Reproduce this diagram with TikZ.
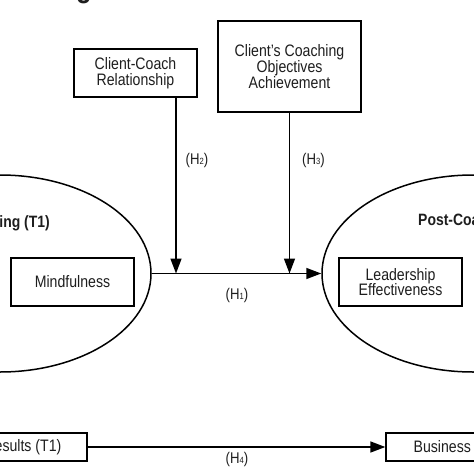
\documentclass[tikz,border=0pt]{standalone}
\usepackage{fontspec}
\setmainfont[FakeStretch=0.85]{Liberation Sans}
\usetikzlibrary{arrows.meta,shapes.geometric}
\definecolor{ink}{RGB}{30,30,30}
\tikzset{
  boxnode/.style={draw=black, line width=1.3pt, inner sep=0pt, align=center, text=ink,
    font=\fontsize{16.6}{15.7}\selectfont},
  arr/.style={line width=1.5pt, -{Triangle[length=15pt,width=11pt]}},
  ell/.style={ellipse, draw, line width=1.5pt, inner sep=0pt},
  hlab/.style={font=\fontsize{15.5}{15.5}\selectfont, inner sep=0pt, text=ink},
  grp/.style={font=\bfseries\fontsize{16.4}{16}\selectfont, inner sep=0pt, text=ink}
}
\newcommand{\hsub}[1]{{\fontsize{9}{9}\selectfont #1}}
\begin{document}
\begin{tikzpicture}[x=1pt,y=-1pt]
\useasboundingbox (0,0) rectangle (474,474);
\clip (0,0) rectangle (474,474);
\fill[white] (0,0) rectangle (474,474);
% clipped title fragment
\node[anchor=base, font=\bfseries\fontsize{30}{30}\selectfont, inner sep=0pt, text=ink] (tg) at (84,-3) {g};
% moderator boxes
\node[boxnode, minimum width=123pt, minimum height=48pt] (ccr) at (135.5,73) {Client-Coach\\Relationship};
\node[boxnode, minimum width=143pt, minimum height=91pt] (coa) at (289.5,66.5) {Client’s Coaching\\Objectives\\Achievement};
% ellipses
\node[ell, minimum width=302pt, minimum height=197pt] (pre) at (0,273.5) {};
\node[ell, minimum width=302pt, minimum height=197pt] (post) at (473,273.5) {};
\node[grp, anchor=base east] (pretitle) at (50,227) {ing (T1)};
\node[grp, anchor=base west] (posttitle) at (418,225) {Post-Coa};
% inner boxes
\node[boxnode, minimum width=123pt, minimum height=48pt] (mind) at (72.5,282) {Mindfulness};
\node[boxnode, minimum width=123pt, minimum height=48pt] (lead) at (400.5,282) {Leadership\\Effectiveness};
% main arrow
\draw[arr] (pre.east) -- (post.west);
\coordinate (j2) at (176,273.5);
\draw[arr] (ccr.south -| j2) -- (j2);
\draw[arr] (coa.south) -- (coa.south |- pre.east);
% hypothesis labels
\node[hlab] (h2) at (197,160) {(H\hsub{2})};
\node[hlab] (h3) at (313.5,160) {(H\hsub{3})};
\node[hlab] (h1) at (237,295) {(H\hsub{1})};
% bottom row
\node[boxnode, minimum width=118pt, minimum height=28pt] (res) at (28,447) {esults (T1)};
\node[boxnode, minimum width=112.6pt, minimum height=28pt] (bus) at (442.3,447) {Business};
\draw[arr] (res.east) -- (bus.west);
\node[hlab] (h4) at (237,459) {(H\hsub{4})};
\end{tikzpicture}
\end{document}
